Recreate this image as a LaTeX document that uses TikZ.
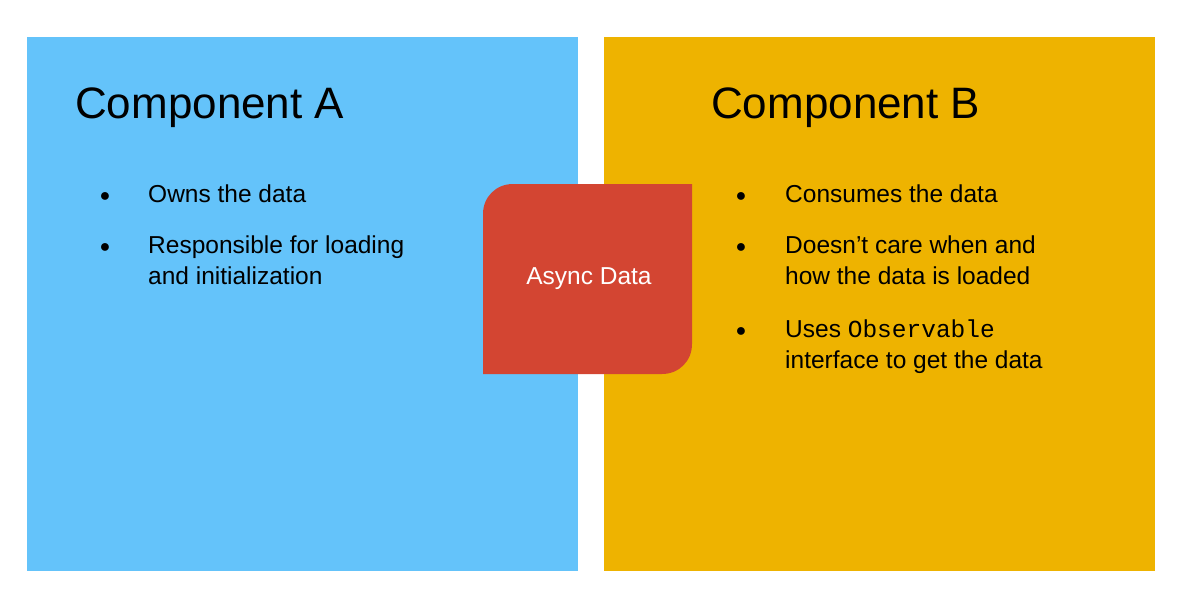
\documentclass[tikz,border=0pt]{standalone}
\usepackage{fontspec}
\setmainfont{Liberation Sans}
\newfontfamily\monof{Liberation Mono}
\definecolor{cblue}{HTML}{64C3FA}
\definecolor{cyel}{HTML}{EEB300}
\definecolor{cred}{HTML}{D34532}
\begin{document}
\begin{tikzpicture}[x=1pt,y=-1pt,
  title/.style={anchor=base west,font=\fontsize{44}{50}\selectfont,inner sep=0},
  txt/.style={anchor=base west,font=\fontsize{24.5}{32}\selectfont,inner sep=0},
  bul/.style={anchor=base,font=\fontsize{18}{20}\selectfont,inner sep=0}]
\useasboundingbox (0,0) rectangle (1193,600);
\fill[white] (0,0) rectangle (1193,600);
\fill[cblue] (27,37) rectangle (578,571);
\fill[cyel] (604,37) rectangle (1155,571);
\fill[cred] (483,374) -- (483,214) .. controls (483,197) and (496,184) .. (513,184) -- (692,184) -- (692,344) .. controls (692,361) and (679,374) .. (662,374) -- cycle;
\node[white,font=\fontsize{24.5}{30}\selectfont] (async) at (589,279) {Async Data};
\node[title] (ta) at (75,118) {Component A};
\node[title] (tb) at (711,118) {Component B};
\node[bul] (b1) at (105,201) {●};
\node[txt] (a1) at (148,202) {Owns the data};
\node[bul] (b2) at (105,252) {●};
\node[txt] (a2) at (148,253) {Responsible for loading};
\node[txt] (a3) at (148,284) {and initialization};
\node[bul] (b3) at (741,201) {●};
\node[txt] (c1) at (785,202) {Consumes the data};
\node[bul] (b4) at (741,252) {●};
\node[txt] (c2) at (785,253) {Doesn’t care when and};
\node[txt] (c3) at (785,284) {how the data is loaded};
\node[bul] (b5) at (741,336) {●};
\node[txt] (c4) at (785,337) {Uses {\monof Observable}};
\node[txt] (c5) at (785,368) {interface to get the data};
\end{tikzpicture}
\end{document}
